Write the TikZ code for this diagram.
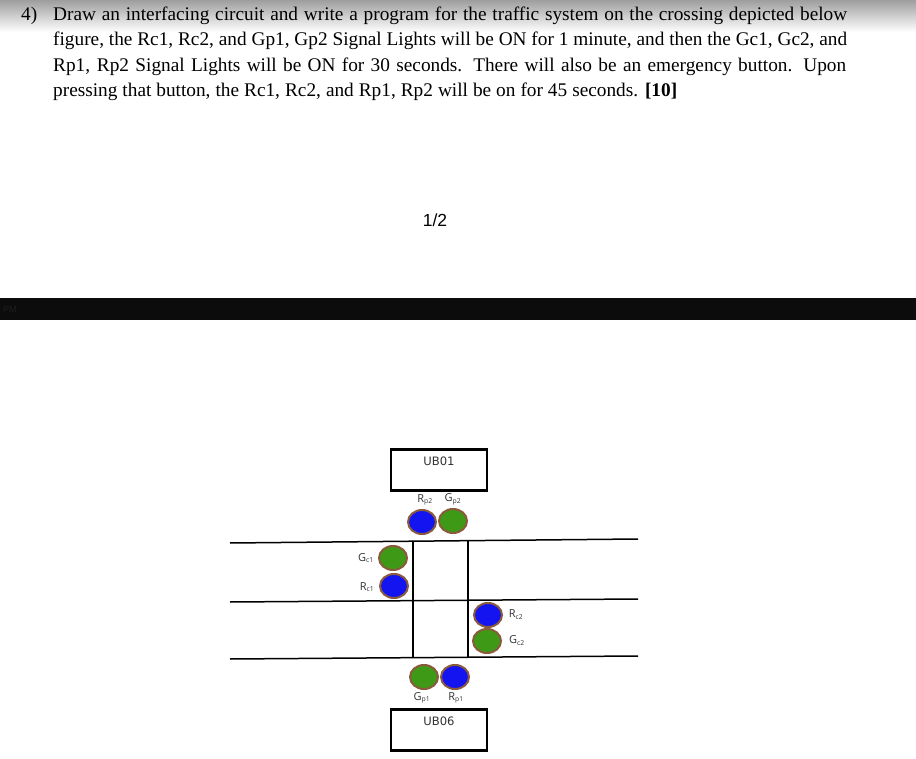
\documentclass[tikz,border=0pt]{standalone}
\usepackage{fontspec}
\usetikzlibrary{shapes.geometric}
\setmainfont{Liberation Serif}
\newfontfamily\arialf{Liberation Sans}
\newfontfamily\diagf{DejaVu Sans}
\newfontfamily\lblf{Open Sans}
\definecolor{lgreen}{HTML}{3E9A16}
\definecolor{lblue}{HTML}{1414F0}
\definecolor{lrim}{HTML}{8A5A3C}
\definecolor{bandc}{HTML}{0C0C0C}
\definecolor{pmc}{HTML}{1E1E1E}
\definecolor{lblc}{HTML}{333333}
\tikzset{
 x=1pt,y=-1pt,
 txt/.style={anchor=base west,inner sep=0pt,font=\fontsize{19.3}{23}\selectfont},
 road/.style={draw=black,line width=1.5pt},
 ubox/.style={draw=black,line width=2.4pt,fill=white,minimum width=96pt,minimum height=41pt,inner sep=0pt},
 ublabel/.style={inner sep=0pt,font=\diagf\fontsize{11.6}{13}\selectfont,text=black!80},
 lbl/.style={inner sep=0pt,font=\lblf\fontsize{11}{12}\selectfont,text=lblc},
 glight/.style={ellipse,draw=lrim,line width=2pt,fill=lgreen,minimum width=28pt,minimum height=24pt,inner sep=0pt},
 blight/.style={ellipse,draw=lrim,line width=2pt,fill=lblue,minimum width=28pt,minimum height=24pt,inner sep=0pt},
}
\newcommand{\sigl}[2]{#1\textsubscript{\fontsize{6.8}{7}\selectfont #2}}
\begin{document}
\begin{tikzpicture}
\useasboundingbox (0,0) rectangle (916,759);
\fill[white] (0,0) rectangle (916,759);
\shade[top color=black!38,bottom color=white] (0,0) rectangle (916,32);
\fill[bandc] (0,298) rectangle (916,320);
\node[anchor=west,inner sep=0pt,text=pmc,font=\arialf\fontsize{9}{10}\selectfont] (pm) at (3,309) {PM};
\node[txt] (n4) at (21,21) {4)};
\node[txt] (l1) at (53,21) {\makebox[794pt][s]{Draw an interfacing circuit and write a program for the traffic system on the crossing depicted below}};
\node[txt] (l2) at (53,46) {\makebox[794pt][s]{figure, the Rc1, Rc2, and Gp1, Gp2 Signal Lights will be ON for 1 minute, and then the Gc1, Gc2, and}};
\node[txt] (l3) at (53,72) {\makebox[793pt][s]{Rp1, Rp2 Signal Lights will be ON for 30 seconds. There will also be an emergency button. Upon}};
\node[txt] (l4) at (53,97) {\makebox[624pt][s]{pressing that button, the Rc1, Rc2, and Rp1, Rp2 will be on for 45 seconds. \textbf{[10]}}};
\node[inner sep=0pt,font=\arialf\fontsize{17.5}{20}\selectfont] (page) at (435,220) {1/2};
% roads
\coordinate (r1a) at (230,543); \coordinate (r1b) at (638,539);
\coordinate (r2a) at (230,602); \coordinate (r2b) at (638,599);
\coordinate (r3a) at (230,659); \coordinate (r3b) at (638,656);
\coordinate (v1a) at (413,542); \coordinate (v1b) at (413,658);
\coordinate (v2a) at (468,541); \coordinate (v2b) at (468,657);
\draw[road] (r1a) -- (r1b);
\draw[road] (r2a) -- (r2b);
\draw[road] (r3a) -- (r3b);
\draw[road] (v1a) -- (v1b);
\draw[road] (v2a) -- (v2b);
% boxes
\node[ubox] (ub1) at (439,470) {};
\node[ublabel] (ub1t) at (439,461.5) {UB01};
\node[ubox] (ub6) at (439,730) {};
\node[ublabel] (ub6t) at (439,721) {UB06};
% lights
\node[blight] (rp2) at (422,522) {};
\node[glight] (gp2) at (453,521) {};
\node[glight] (gc1) at (393,558) {};
\node[blight] (rc1) at (394,586) {};
\node[blight] (rc2) at (488,615) {};
\node[glight] (gc2) at (487,641) {};
\node[glight] (gp1) at (424,677) {};
\node[blight] (rp1) at (455,677) {};
% labels
\node[lbl] (trp2) at (425,500) {\sigl{R}{p2}};
\node[lbl] (tgp2) at (453,499.5) {\sigl{G}{p2}};
\node[lbl] (tgc1) at (366,558) {\sigl{G}{c1}};
\node[lbl] (trc1) at (367,587) {\sigl{R}{c1}};
\node[lbl] (trc2) at (516,614.5) {\sigl{R}{c2}};
\node[lbl] (tgc2) at (517,640.5) {\sigl{G}{c2}};
\node[lbl] (tgp1) at (422,698) {\sigl{G}{p1}};
\node[lbl] (trp1) at (456,698) {\sigl{R}{p1}};
\end{tikzpicture}
\end{document}
